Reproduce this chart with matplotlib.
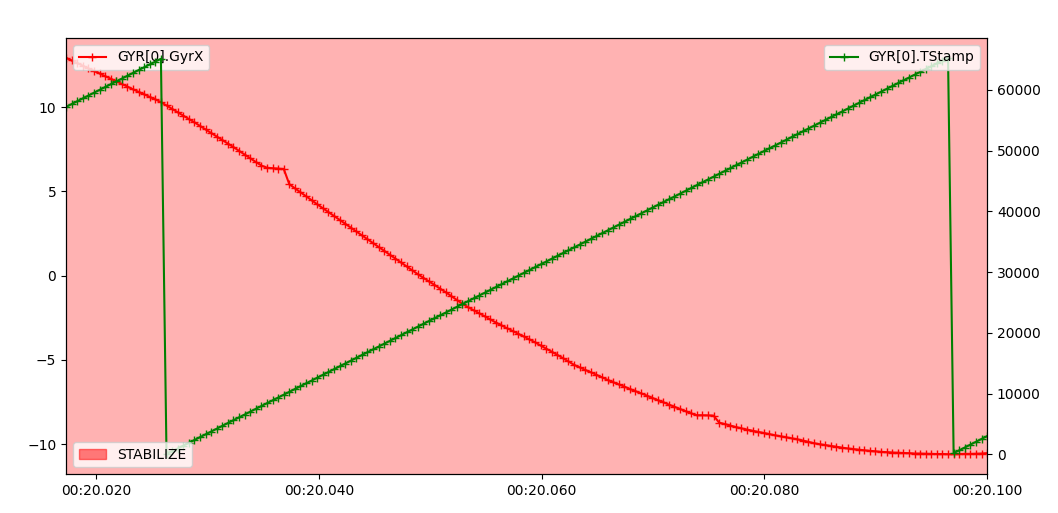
import numpy as np
import matplotlib
matplotlib.use("Agg")
import matplotlib.pyplot as plt
import matplotlib.patches as mpatches
from matplotlib.ticker import FuncFormatter, MultipleLocator

# log window (seconds since boot), GYR messages at a fixed rate
t_start = 20.0173
t_end = 20.1000

# GYR[0].GyrX
gyr_x = [
    12.92, 12.76, 12.61, 12.45, 12.29, 12.14, 11.99, 11.83, 11.68, 11.52,
    11.37, 11.21, 11.05, 10.90, 10.75, 10.60, 10.45, 10.29, 10.09, 9.89,
    9.69, 9.49, 9.29, 9.09, 8.88, 8.67, 8.46, 8.25, 8.04, 7.83,
    7.62, 7.40, 7.18, 6.96, 6.74, 6.53, 6.40, 6.37, 6.35, 6.33,
    5.42, 5.18, 4.94, 4.71, 4.47, 4.23, 4.00, 3.77, 3.54, 3.31,
    3.08, 2.85, 2.62, 2.39, 2.16, 1.93, 1.70, 1.47, 1.24, 1.01,
    0.78, 0.55, 0.32, 0.09, -0.13, -0.34, -0.55, -0.77, -0.98, -1.21,
    -1.44, -1.67, -1.87, -2.05, -2.23, -2.41, -2.60, -2.78, -2.95, -3.12,
    -3.28, -3.45, -3.61, -3.78, -3.95, -4.14, -4.33, -4.51, -4.70, -4.89,
    -5.09, -5.29, -5.44, -5.59, -5.73, -5.88, -6.03, -6.18, -6.32, -6.45,
    -6.58, -6.72, -6.85, -6.98, -7.11, -7.25, -7.38, -7.51, -7.65, -7.78,
    -7.91, -8.04, -8.17, -8.28, -8.28, -8.29, -8.30, -8.72, -8.80, -8.89,
    -8.98, -9.06, -9.13, -9.20, -9.27, -9.33, -9.40, -9.47, -9.53, -9.59,
    -9.65, -9.71, -9.78, -9.86, -9.94, -10.00, -10.05, -10.10, -10.15, -10.20,
    -10.25, -10.29, -10.32, -10.36, -10.39, -10.42, -10.45, -10.47, -10.49, -10.50,
    -10.52, -10.53, -10.55, -10.55, -10.56, -10.57, -10.58, -10.58, -10.59, -10.59,
    -10.58, -10.57, -10.57, -10.56, -10.55, -10.53,
]

# GYR[0].TStamp (16 bit counter, wraps at 65536)
gyr_tstamp = [
    57190, 57660, 58120, 58590, 59050, 59520, 59990, 60450, 60920, 61380,
    61850, 62320, 62780, 63250, 63710, 64180, 64650, 65110, 40, 510,
    970, 1440, 1900, 2370, 2840, 3300, 3770, 4230, 4700, 5170,
    5630, 6100, 6560, 7030, 7500, 7960, 8430, 8890, 9360, 9830,
    10290, 10760, 11220, 11690, 12160, 12620, 13090, 13550, 14020, 14490,
    14950, 15420, 15880, 16350, 16820, 17280, 17750, 18210, 18680, 19150,
    19610, 20080, 20540, 21010, 21480, 21940, 22410, 22870, 23340, 23810,
    24270, 24740, 25200, 25670, 26140, 26600, 27070, 27530, 28000, 28470,
    28930, 29400, 29860, 30330, 30800, 31260, 31730, 32190, 32660, 33130,
    33590, 34060, 34520, 34990, 35460, 35920, 36390, 36850, 37320, 37790,
    38250, 38720, 39180, 39650, 40120, 40580, 41050, 41510, 41980, 42450,
    42910, 43380, 43840, 44310, 44780, 45240, 45710, 46170, 46640, 47110,
    47570, 48040, 48500, 48970, 49440, 49900, 50370, 50830, 51300, 51770,
    52230, 52700, 53160, 53630, 54100, 54560, 55030, 55490, 55960, 56430,
    56890, 57360, 57820, 58290, 58760, 59220, 59690, 60150, 60620, 61090,
    61550, 62020, 62480, 62950, 63420, 63880, 64350, 64810, 65280, 210,
    680, 1140, 1610, 2080, 2540, 3010,
]

# flight modes active in the window
mode_names = ["STABILIZE"]
mode_start = [20.0]
mode_end = [20.2]

t = np.linspace(t_start, t_end, len(gyr_x))


def fmt_time(x, pos):
    m = int(x // 60)
    s = x - 60 * m
    return f"{m:02d}:{s:06.3f}"


fig, ax1 = plt.subplots(figsize=(10.58, 5.13), dpi=100)
fig.subplots_adjust(left=0.0624, right=0.933, top=0.926, bottom=0.076)

for name, a, b in zip(mode_names, mode_start, mode_end):
    ax1.axvspan(a, b, color="red", alpha=0.3, lw=0)

ax1.plot(t, gyr_x, color="red", marker="+", label="GYR[0].GyrX")
ax1.legend(loc="upper left")

ax2 = ax1.twinx()
ax2.plot(t, gyr_tstamp, color="green", marker="+", label="GYR[0].TStamp")
leg2 = ax2.legend(loc="upper right")
ax2.add_artist(leg2)
mode_handles = [mpatches.Patch(color="red", alpha=0.5, label=n) for n in mode_names]
ax2.legend(handles=mode_handles, loc="lower left")

# small pad on the right so the last tick (00:20.100) is kept
ax1.set_xlim(t_start, t_end + 1e-9)
ax1.xaxis.set_major_locator(MultipleLocator(0.02))
ax1.xaxis.set_major_formatter(FuncFormatter(fmt_time))

fig.savefig("out.png")
